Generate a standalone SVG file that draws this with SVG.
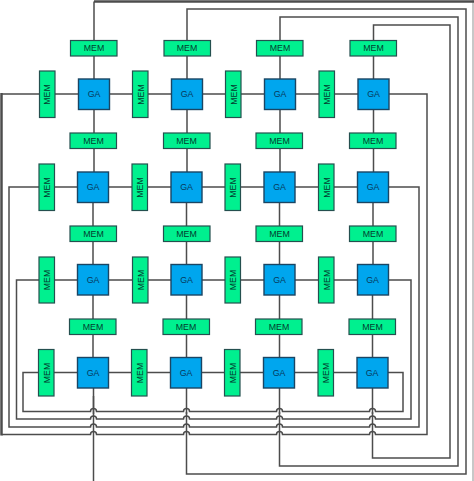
<svg xmlns="http://www.w3.org/2000/svg" width="474" height="481" viewBox="0 0 474 481">
<style>
.w{fill:none;stroke:#4c4c4c;stroke-width:1.5}
.t{stroke-width:2.5}
.m{fill:#00f08f;stroke:#24504f;stroke-width:1.2}
.g{fill:#00a6ee;stroke:#1a4563;stroke-width:1.4}
text{font-family:"Liberation Sans",Arial,sans-serif;font-size:8.8px;text-anchor:middle}
.mt{fill:#033c30}
.gt{fill:#07395c}
</style>
<rect width="474" height="481" fill="#fff"/>
<rect x="472" y="0" width="2" height="481" fill="#c8c8c8"/>
<g id="connectors">
<path class="w" d="M94 110V1.500"/>
<path class="w t" d="M94 1.500H474"/>
<path class="w" d="M187 110V9H466V474H186.500V412"/>
<path class="w" d="M280 110V17H458V466H279.500V412"/>
<path class="w" d="M373.500 110V25H450V458H372.500V412"/>
<path class="w" d="M93.500 396V481"/>
<path class="w" d="M94 110V172M187 110V172M280 110V172M373.500 110V172"/>
<path class="w" d="M93 172V265M186.500 172V265M279.500 172V265M373 172V265"/>
<path class="w" d="M93 265V358M186.500 265V358M279.500 265V358M372.500 265V358"/>
<path class="w" d="M93.500 388V414M186.500 388V414M279.500 388V414M372.500 388V414"/>
<path class="w" d="M1.500 94H427V434.500H375.500a3 3 0 0 0-6 0H282.500a3 3 0 0 0-6 0H189.500a3 3 0 0 0-6 0H96.500a3 3 0 0 0-6 0H1.500"/>
<path class="w t" d="M1.500 435.500V93"/>
<path class="w" d="M9 187H419V427H375.500a3 3 0 0 0-6 0H282.500a3 3 0 0 0-6 0H189.500a3 3 0 0 0-6 0H96.500a3 3 0 0 0-6 0H9Z"/>
<path class="w" d="M16.500 280H411V419H375.500a3 3 0 0 0-6 0H282.500a3 3 0 0 0-6 0H189.500a3 3 0 0 0-6 0H96.500a3 3 0 0 0-6 0H16.500Z"/>
<path class="w" d="M23 372.500H403V411.500H375.500a3 3 0 0 0-6 0H282.500a3 3 0 0 0-6 0H189.500a3 3 0 0 0-6 0H96.500a3 3 0 0 0-6 0H23Z"/>
</g>
<g id="ga-1-1"><rect class="g" x="78.500" y="79" width="31" height="30.500"/><text class="gt" x="94" y="97.200">GA</text></g>
<g id="ga-1-2"><rect class="g" x="171.500" y="79" width="31" height="30.500"/><text class="gt" x="187" y="97.200">GA</text></g>
<g id="ga-1-3"><rect class="g" x="264.500" y="79" width="31" height="30.500"/><text class="gt" x="280" y="97.200">GA</text></g>
<g id="ga-1-4"><rect class="g" x="358" y="79" width="31" height="30.500"/><text class="gt" x="373.500" y="97.200">GA</text></g>
<g id="ga-2-1"><rect class="g" x="77.500" y="172" width="31" height="30.500"/><text class="gt" x="93" y="190.200">GA</text></g>
<g id="ga-2-2"><rect class="g" x="171" y="172" width="31" height="30.500"/><text class="gt" x="186.500" y="190.200">GA</text></g>
<g id="ga-2-3"><rect class="g" x="264" y="172" width="31" height="30.500"/><text class="gt" x="279.500" y="190.200">GA</text></g>
<g id="ga-2-4"><rect class="g" x="357.500" y="172" width="31" height="30.500"/><text class="gt" x="373" y="190.200">GA</text></g>
<g id="ga-3-1"><rect class="g" x="77.500" y="264.500" width="31" height="30.500"/><text class="gt" x="93" y="283">GA</text></g>
<g id="ga-3-2"><rect class="g" x="171" y="264.500" width="31" height="30.500"/><text class="gt" x="186.500" y="283">GA</text></g>
<g id="ga-3-3"><rect class="g" x="264" y="264.500" width="31" height="30.500"/><text class="gt" x="279.500" y="283">GA</text></g>
<g id="ga-3-4"><rect class="g" x="357.500" y="264.500" width="31" height="30.500"/><text class="gt" x="372.500" y="283">GA</text></g>
<g id="ga-4-1"><rect class="g" x="77.500" y="357.500" width="31" height="30.500"/><text class="gt" x="93" y="375.800">GA</text></g>
<g id="ga-4-2"><rect class="g" x="170.500" y="357.500" width="31" height="30.500"/><text class="gt" x="186" y="375.800">GA</text></g>
<g id="ga-4-3"><rect class="g" x="263.500" y="357.500" width="31" height="30.500"/><text class="gt" x="279" y="375.800">GA</text></g>
<g id="ga-4-4"><rect class="g" x="357" y="357.500" width="31" height="30.500"/><text class="gt" x="372" y="375.800">GA</text></g>
<g id="mh-1-1"><rect class="m" x="70.500" y="40.500" width="46.500" height="15.500"/><text class="mt" x="94" y="51.200">MEM</text></g>
<g id="mh-1-2"><rect class="m" x="164" y="40.500" width="46.500" height="15.500"/><text class="mt" x="187" y="51.200">MEM</text></g>
<g id="mh-1-3"><rect class="m" x="256.500" y="40.500" width="46.500" height="15.500"/><text class="mt" x="280" y="51.200">MEM</text></g>
<g id="mh-1-4"><rect class="m" x="350" y="40.500" width="46.500" height="15.500"/><text class="mt" x="373.500" y="51.200">MEM</text></g>
<g id="mh-2-1"><rect class="m" x="70" y="133" width="46.500" height="15.500"/><text class="mt" x="93.500" y="144">MEM</text></g>
<g id="mh-2-2"><rect class="m" x="163.500" y="133" width="46.500" height="15.500"/><text class="mt" x="186.500" y="144">MEM</text></g>
<g id="mh-2-3"><rect class="m" x="256" y="133" width="46.500" height="15.500"/><text class="mt" x="279.500" y="144">MEM</text></g>
<g id="mh-2-4"><rect class="m" x="349.500" y="133" width="46.500" height="15.500"/><text class="mt" x="373" y="144">MEM</text></g>
<g id="mh-3-1"><rect class="m" x="70" y="226" width="46.500" height="15.500"/><text class="mt" x="93.500" y="237">MEM</text></g>
<g id="mh-3-2"><rect class="m" x="163.500" y="226" width="46.500" height="15.500"/><text class="mt" x="186.500" y="237">MEM</text></g>
<g id="mh-3-3"><rect class="m" x="256" y="226" width="46.500" height="15.500"/><text class="mt" x="279.500" y="237">MEM</text></g>
<g id="mh-3-4"><rect class="m" x="349.500" y="226" width="46.500" height="15.500"/><text class="mt" x="373" y="237">MEM</text></g>
<g id="mh-4-1"><rect class="m" x="69.500" y="319" width="46.500" height="15.500"/><text class="mt" x="93" y="329.800">MEM</text></g>
<g id="mh-4-2"><rect class="m" x="163" y="319" width="46.500" height="15.500"/><text class="mt" x="186" y="329.800">MEM</text></g>
<g id="mh-4-3"><rect class="m" x="255.500" y="319" width="46.500" height="15.500"/><text class="mt" x="279" y="329.800">MEM</text></g>
<g id="mh-4-4"><rect class="m" x="349" y="319" width="46.500" height="15.500"/><text class="mt" x="372.500" y="329.800">MEM</text></g>
<g id="mv-1-1"><rect class="m" x="39.500" y="71" width="15.500" height="46.500"/><text class="mt" transform="translate(50 94.500) rotate(-90)">MEM</text></g>
<g id="mv-1-2"><rect class="m" x="132.500" y="71" width="15.500" height="46.500"/><text class="mt" transform="translate(143.500 94.500) rotate(-90)">MEM</text></g>
<g id="mv-1-3"><rect class="m" x="225.500" y="71" width="15.500" height="46.500"/><text class="mt" transform="translate(236.500 94.500) rotate(-90)">MEM</text></g>
<g id="mv-1-4"><rect class="m" x="319" y="71" width="15.500" height="46.500"/><text class="mt" transform="translate(330 94.500) rotate(-90)">MEM</text></g>
<g id="mv-2-1"><rect class="m" x="39" y="164" width="15.500" height="46.500"/><text class="mt" transform="translate(50 187.500) rotate(-90)">MEM</text></g>
<g id="mv-2-2"><rect class="m" x="132" y="164" width="15.500" height="46.500"/><text class="mt" transform="translate(143 187.500) rotate(-90)">MEM</text></g>
<g id="mv-2-3"><rect class="m" x="225" y="164" width="15.500" height="46.500"/><text class="mt" transform="translate(236 187.500) rotate(-90)">MEM</text></g>
<g id="mv-2-4"><rect class="m" x="318.500" y="164" width="15.500" height="46.500"/><text class="mt" transform="translate(329.500 187.500) rotate(-90)">MEM</text></g>
<g id="mv-3-1"><rect class="m" x="39" y="257" width="15.500" height="46"/><text class="mt" transform="translate(50 280) rotate(-90)">MEM</text></g>
<g id="mv-3-2"><rect class="m" x="132.500" y="257" width="15.500" height="46"/><text class="mt" transform="translate(143.500 280) rotate(-90)">MEM</text></g>
<g id="mv-3-3"><rect class="m" x="225" y="257" width="15.500" height="46"/><text class="mt" transform="translate(236 280) rotate(-90)">MEM</text></g>
<g id="mv-3-4"><rect class="m" x="318.500" y="257" width="15.500" height="46"/><text class="mt" transform="translate(329.500 280) rotate(-90)">MEM</text></g>
<g id="mv-4-1"><rect class="m" x="38.500" y="349.500" width="15.500" height="46.500"/><text class="mt" transform="translate(49.500 373) rotate(-90)">MEM</text></g>
<g id="mv-4-2"><rect class="m" x="131.500" y="349.500" width="15.500" height="46.500"/><text class="mt" transform="translate(142.500 373) rotate(-90)">MEM</text></g>
<g id="mv-4-3"><rect class="m" x="224.500" y="349.500" width="15.500" height="46.500"/><text class="mt" transform="translate(235.500 373) rotate(-90)">MEM</text></g>
<g id="mv-4-4"><rect class="m" x="318" y="349.500" width="15.500" height="46.500"/><text class="mt" transform="translate(329 373) rotate(-90)">MEM</text></g>
</svg>
